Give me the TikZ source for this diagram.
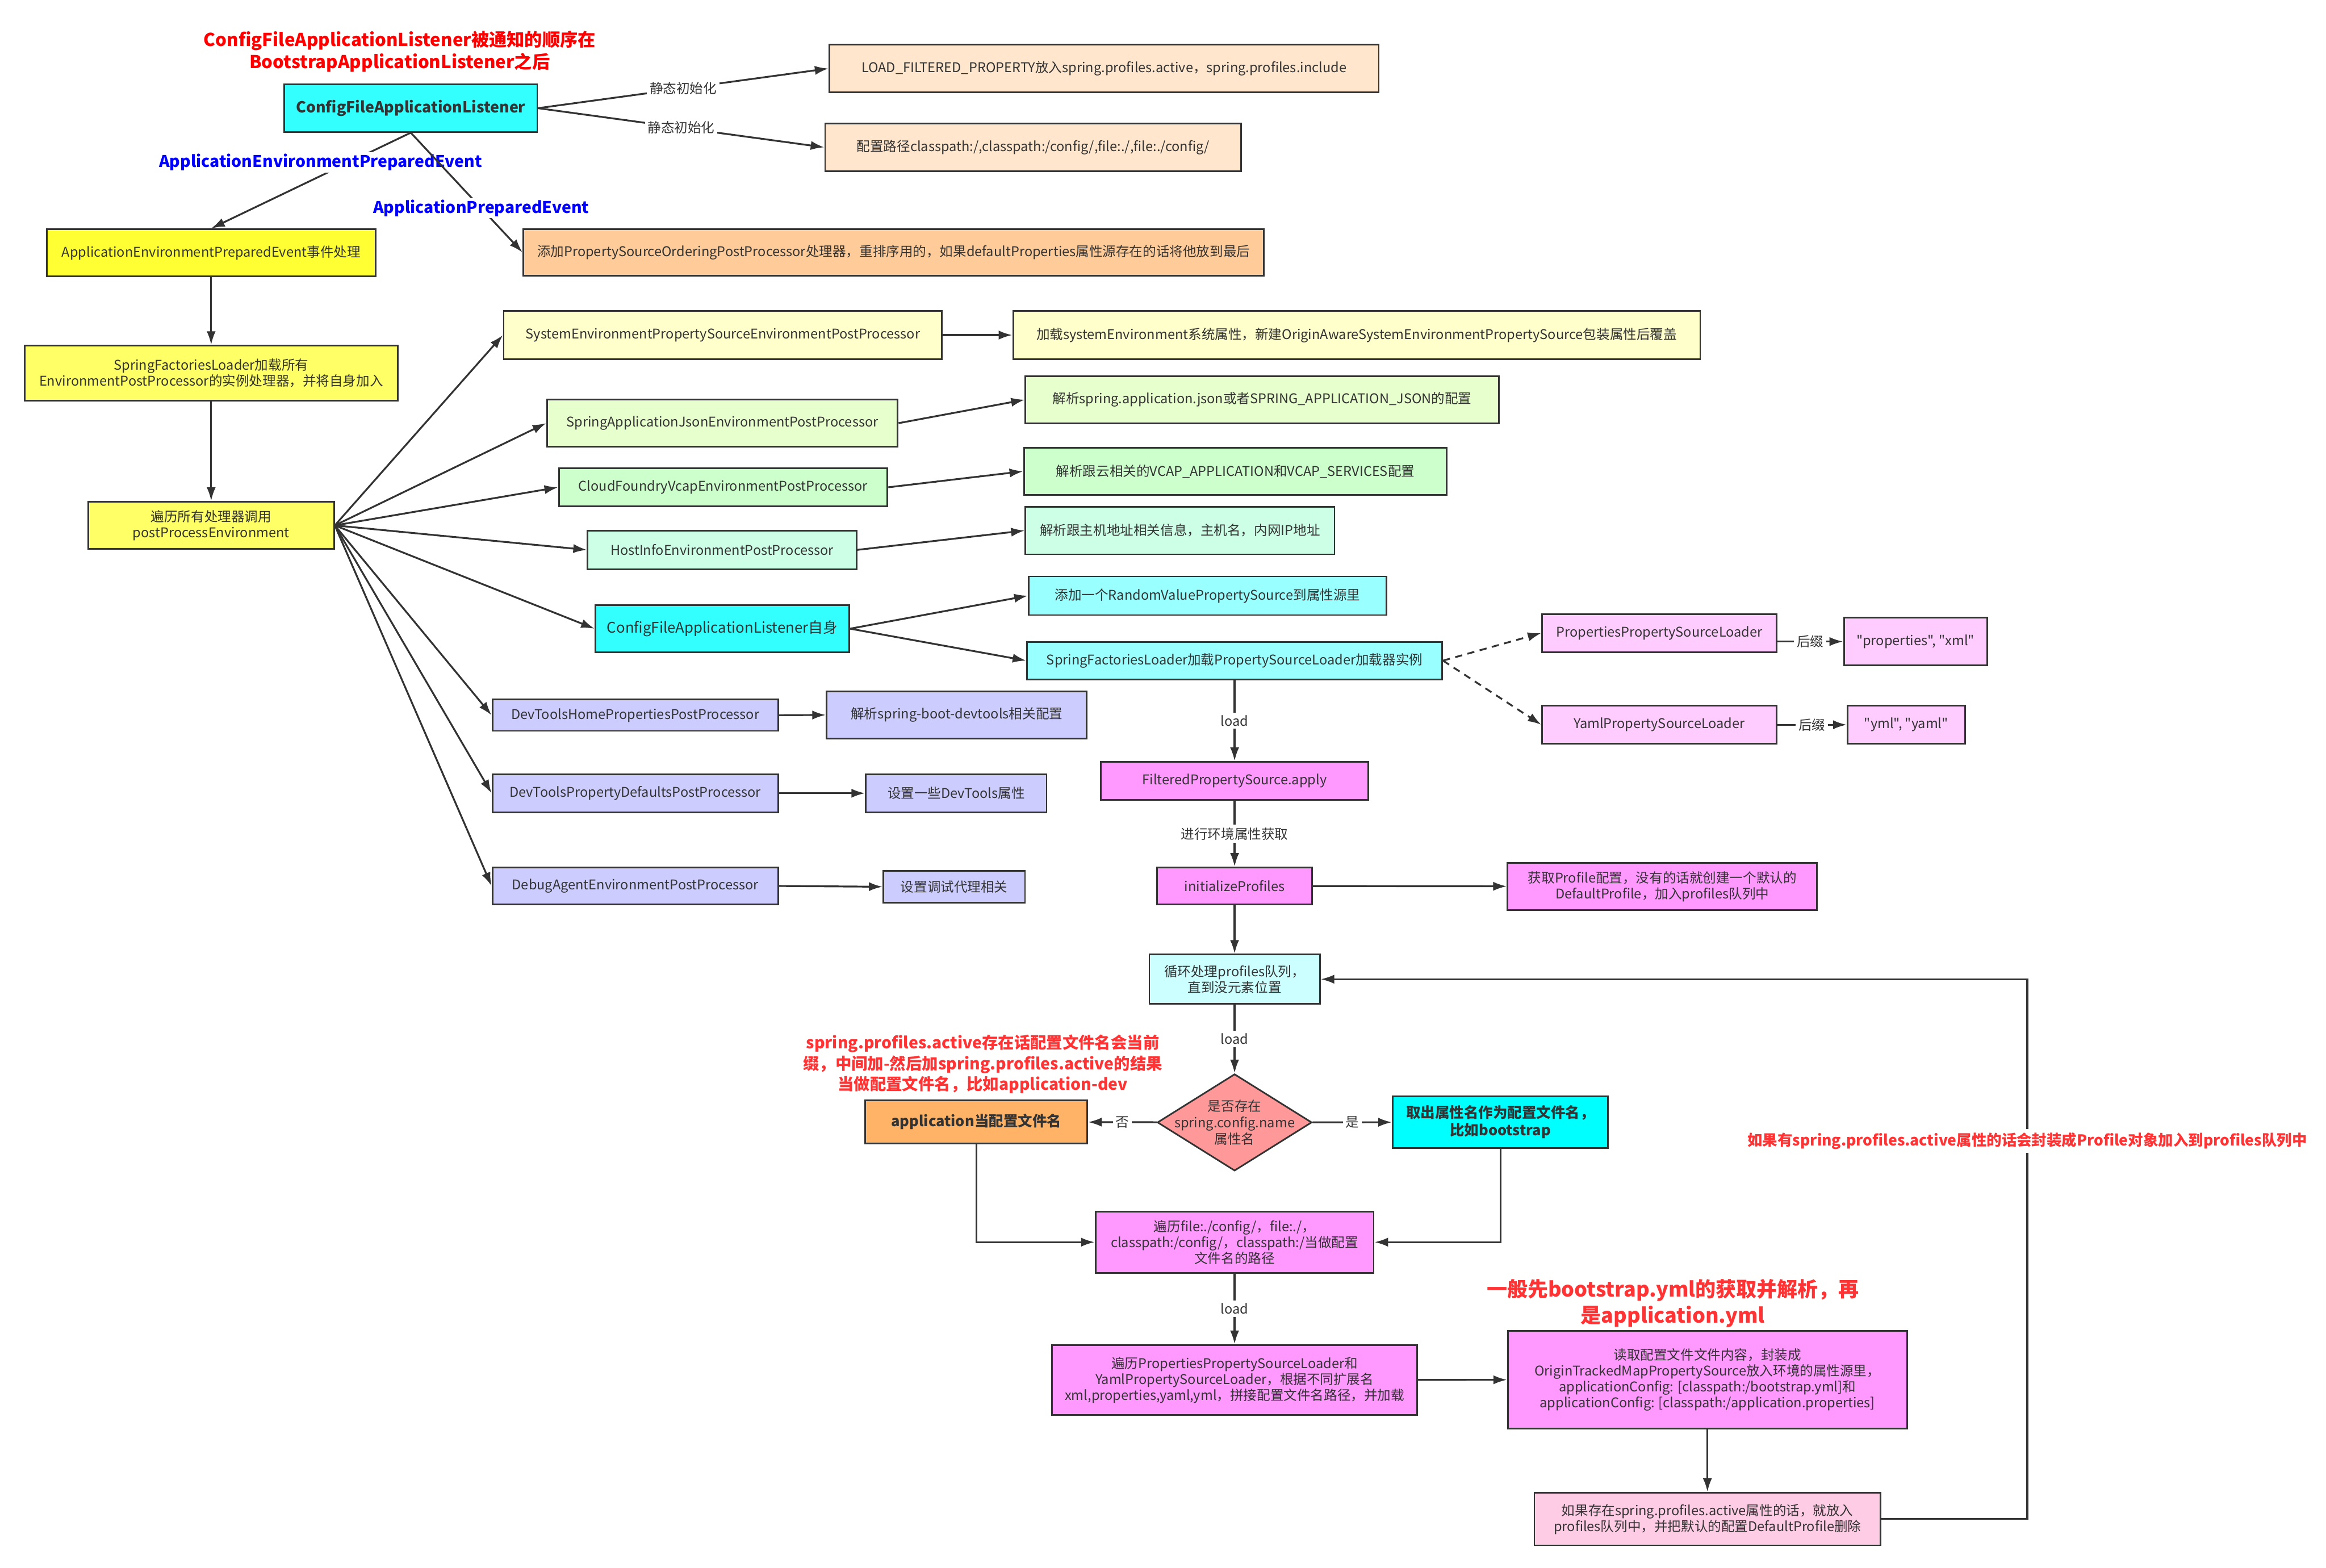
\documentclass[tikz,border=0pt]{standalone}
\usepackage{fontspec}
\setmainfont{Noto Sans CJK SC}
\newfontfamily\plainquote{Noto Sans CJK SC}
\usetikzlibrary{arrows.meta,shapes.geometric}
\definecolor{LineGray}{RGB}{51,51,51}
\definecolor{TextGray}{RGB}{51,51,51}
\definecolor{NoteRed}{RGB}{255,51,51}
\definecolor{TitleRed}{RGB}{255,0,0}
\definecolor{EventBlue}{RGB}{0,0,255}
\definecolor{BrightCyan}{HTML}{33FFFF}
\definecolor{PureCyan}{HTML}{00FFFF}
\definecolor{SoftCyan}{HTML}{99FFFF}
\definecolor{IceCyan}{HTML}{CCFFFF}
\definecolor{SoftPeach}{HTML}{FFE6CC}
\definecolor{Peach}{HTML}{FFCC99}
\definecolor{LemonYellow}{HTML}{FFFF33}
\definecolor{SoftYellow}{HTML}{FFFF66}
\definecolor{CreamYellow}{HTML}{FFFFCC}
\definecolor{LimeGreen}{HTML}{E6FFCC}
\definecolor{MintGreen}{HTML}{CCFFCC}
\definecolor{MintAqua}{HTML}{CCFFE6}
\definecolor{Lavender}{HTML}{CCCCFF}
\definecolor{LightPink}{HTML}{FFCCFF}
\definecolor{Orchid}{HTML}{FF99FF}
\definecolor{BlushPink}{HTML}{FFCCE6}
\definecolor{Salmon}{HTML}{FF9999}
\definecolor{Apricot}{HTML}{FFB366}
\tikzset{
  box/.style={draw=LineGray,line width=0.9pt,text=TextGray,align=center,
    inner sep=2pt,font=\fontsize{7.4}{8.8}\selectfont},
  boldbox/.style={box,font=\bfseries\fontsize{8}{9.8}\selectfont},
  decide/.style={diamond,draw=LineGray,line width=0.9pt,fill=Salmon,inner sep=0pt},
  arrow/.style={-{Latex[length=7.5pt,width=5pt]},line width=1pt,LineGray},
  dasharrow/.style={arrow,dash pattern=on 4pt off 3pt},
  elabel/.style={fill=white,inner sep=1.5pt,text=TextGray,font=\fontsize{7.4}{8.6}\selectfont},
  evlabel/.style={fill=white,inner sep=1pt,text=EventBlue,font=\bfseries\fontsize{8.9}{10.4}\selectfont},
  note/.style={align=center,inner sep=0pt,font=\bfseries}
}

\begin{document}
\begin{tikzpicture}
\useasboundingbox (0,0) rectangle (45.16,-30.44);

% listener and its events
\node[note,text=TitleRed,font=\bfseries\fontsize{9.8}{12.3}\selectfont] (orderNote) at (7.76,-1.00)
  {ConfigFileApplicationListener被通知的顺序在\\BootstrapApplicationListener之后};
\node[boldbox,fill=BrightCyan,font=\bfseries\fontsize{8.4}{10}\selectfont,minimum width=4.91cm,minimum height=0.92cm] (listener) at (7.975,-2.10) {ConfigFileApplicationListener};
\node[box,fill=SoftPeach,minimum width=10.67cm,minimum height=0.92cm] (loadFiltered) at (21.435,-1.33)
  {LOAD\_FILTERED\_PROPERTY放入spring.profiles.active，spring.profiles.include};
\node[box,fill=SoftPeach,minimum width=8.08cm,minimum height=0.92cm] (cfgPath) at (20.06,-2.86)
  {配置路径classpath:/,classpath:/config/,file:./,file:./config/};
\node[box,fill=Peach,minimum width=14.38cm,minimum height=0.90cm] (ordering) at (17.35,-4.90)
  {添加PropertySourceOrderingPostProcessor处理器，重排序用的，如果defaultProperties属性源存在的话将他放到最后};
\node[box,fill=LemonYellow,minimum width=6.38cm,minimum height=0.91cm] (aepe) at (4.10,-4.905)
  {ApplicationEnvironmentPreparedEvent事件处理};
\node[box,fill=SoftYellow,minimum width=7.24cm,minimum height=1.07cm] (sfl) at (4.10,-7.245)
  {SpringFactoriesLoader加载所有\\EnvironmentPostProcessor的实例处理器，并将自身加入};
\node[box,fill=SoftYellow,minimum width=4.77cm,minimum height=0.92cm] (traverse) at (4.10,-10.20)
  {遍历所有处理器调用\\postProcessEnvironment};

% post processors
\node[box,fill=CreamYellow,minimum width=8.51cm,minimum height=0.93cm] (sysEnv) at (14.035,-6.505)
  {SystemEnvironmentPropertySourceEnvironmentPostProcessor};
\node[box,fill=CreamYellow,minimum width=13.34cm,minimum height=0.93cm] (sysEnvDesc) at (26.34,-6.505)
  {加载systemEnvironment系统属性，新建OriginAwareSystemEnvironmentPropertySource包装属性后覆盖};
\node[box,fill=LimeGreen,minimum width=6.81cm,minimum height=0.91cm] (appJson) at (14.025,-8.215)
  {SpringApplicationJsonEnvironmentPostProcessor};
\node[box,fill=LimeGreen,minimum width=9.19cm,minimum height=0.92cm] (appJsonDesc) at (24.505,-7.76)
  {解析spring.application.json或者SPRING\_APPLICATION\_JSON的配置};
\node[box,fill=MintGreen,minimum width=6.38cm,minimum height=0.74cm] (cloud) at (14.04,-9.46)
  {CloudFoundryVcapEnvironmentPostProcessor};
\node[box,fill=MintGreen,minimum width=8.21cm,minimum height=0.92cm] (cloudDesc) at (23.985,-9.15)
  {解析跟云相关的VCAP\_APPLICATION和VCAP\_SERVICES配置};
\node[box,fill=MintAqua,minimum width=5.22cm,minimum height=0.75cm] (host) at (14.02,-10.675)
  {HostInfoEnvironmentPostProcessor};
\node[box,fill=MintAqua,minimum width=6.00cm,minimum height=0.92cm] (hostDesc) at (22.91,-10.30)
  {解析跟主机地址相关信息，主机名，内网IP地址};
\node[box,fill=BrightCyan,font=\fontsize{8.1}{9.6}\selectfont,minimum width=4.93cm,minimum height=0.91cm] (self) at (14.025,-12.205)
  {ConfigFileApplicationListener自身};
\node[box,fill=SoftCyan,minimum width=6.95cm,minimum height=0.75cm] (random) at (23.445,-11.565)
  {添加一个RandomValuePropertySource到属性源里};
\node[box,fill=SoftCyan,minimum width=8.06cm,minimum height=0.73cm] (psl) at (23.97,-12.825)
  {SpringFactoriesLoader加载PropertySourceLoader加载器实例};
\node[box,fill=Lavender,minimum width=5.55cm,minimum height=0.61cm] (devHome) at (12.335,-13.885)
  {DevToolsHomePropertiesPostProcessor};
\node[box,fill=Lavender,minimum width=5.05cm,minimum height=0.92cm] (devHomeDesc) at (18.575,-13.88)
  {解析spring-boot-devtools相关配置};
\node[box,fill=Lavender,minimum width=5.55cm,minimum height=0.74cm] (devDef) at (12.335,-15.40)
  {DevToolsPropertyDefaultsPostProcessor};
\node[box,fill=Lavender,minimum width=3.51cm,minimum height=0.74cm] (devDefDesc) at (18.565,-15.40)
  {设置一些DevTools属性};
\node[box,fill=Lavender,minimum width=5.55cm,minimum height=0.72cm] (debug) at (12.335,-17.20)
  {DebugAgentEnvironmentPostProcessor};
\node[box,fill=Lavender,minimum width=2.75cm,minimum height=0.61cm] (debugDesc) at (18.525,-17.215)
  {设置调试代理相关};

% loaders
\node[box,fill=LightPink,minimum width=4.55cm,minimum height=0.74cm] (propsLoader) at (32.215,-12.29)
  {PropertiesPropertySourceLoader};
\node[box,fill=LightPink,minimum width=2.78cm,minimum height=0.93cm] (propsExt) at (37.19,-12.455)
  {\plainquote "properties", "xml"};
\node[box,fill=LightPink,minimum width=4.55cm,minimum height=0.74cm] (yamlLoader) at (32.215,-14.07)
  {YamlPropertySourceLoader};
\node[box,fill=LightPink,minimum width=2.28cm,minimum height=0.74cm] (yamlExt) at (37.01,-14.07)
  {\plainquote "yml", "yaml"};

% profiles
\node[box,fill=Orchid,minimum width=5.20cm,minimum height=0.74cm] (filtered) at (23.97,-15.16)
  {FilteredPropertySource.apply};
\node[box,fill=Orchid,minimum width=3.01cm,minimum height=0.72cm] (initProf) at (23.97,-17.20)
  {initializeProfiles};
\node[box,fill=Orchid,minimum width=6.01cm,minimum height=0.92cm] (profileDesc) at (32.275,-17.21)
  {获取Profile配置，没有的话就创建一个默认的\\DefaultProfile，加入profiles队列中};
\node[box,fill=IceCyan,minimum width=3.31cm,minimum height=0.96cm] (loop) at (23.97,-19.01)
  {循环处理profiles队列，\\直到没元素位置};
\node[decide,minimum width=3.00cm,minimum height=1.88cm,
  label={[align=center,text=TextGray,font=\fontsize{7.4}{9}\selectfont]center:是否存在\\spring.config.name\\属性名}]
  (decision) at (23.97,-21.79) {};
\node[note,text=NoteRed,font=\bfseries\fontsize{8.9}{11.4}\selectfont] (prefixNote) at (19.08,-20.66)
  {spring.profiles.active存在话配置文件名会当前\\缀，中间加-然后加spring.profiles.active的结果\\当做配置文件名，比如application-dev};
\node[boldbox,fill=Apricot,minimum width=4.31cm,minimum height=0.84cm] (appName) at (18.955,-21.78)
  {application当配置文件名};
\node[boldbox,fill=PureCyan,minimum width=4.18cm,minimum height=1.01cm] (takeName) at (29.13,-21.785)
  {取出属性名作为配置文件名，\\比如bootstrap};
\node[box,fill=Orchid,minimum width=5.40cm,minimum height=1.19cm] (paths) at (23.97,-24.115)
  {遍历file:./config/，file:./，\\classpath:/config/，classpath:/当做配置\\文件名的路径};
\node[box,fill=Orchid,minimum width=7.09cm,minimum height=1.36cm] (loaders) at (23.97,-26.79)
  {遍历PropertiesPropertySourceLoader和\\YamlPropertySourceLoader，根据不同扩展名\\xml,properties,yaml,yml，拼接配置文件名路径，并加载};
\node[note,text=NoteRed,font=\bfseries\fontsize{11.3}{14.5}\selectfont] (bootNote) at (32.48,-25.30)
  {一般先bootstrap.yml的获取并解析，再\\是application.yml};
\node[box,fill=Orchid,minimum width=7.75cm,minimum height=1.89cm] (read) at (33.15,-26.785)
  {读取配置文件文件内容，封装成\\OriginTrackedMapPropertySource放入环境的属性源里，\\applicationConfig: [classpath:/bootstrap.yml]和\\applicationConfig: [classpath:/application.properties]};
\node[box,fill=BlushPink,minimum width=6.72cm,minimum height=1.02cm] (active) at (33.15,-29.49)
  {如果存在spring.profiles.active属性的话，就放入\\profiles队列中，并把默认的配置DefaultProfile删除};
\coordinate (loopback) at (39.36,-19.01);

% connectors
\draw[arrow] (listener.east) -- node[elabel] {静态初始化} (loadFiltered.west);
\draw[arrow] (listener.east) -- node[elabel] {静态初始化} (cfgPath.west);
\draw[arrow] (listener.south) -- node[evlabel,pos=0.31,xshift=-5.5mm] {ApplicationEnvironmentPreparedEvent} (aepe.north);
\draw[arrow] (listener.south) -- node[evlabel,pos=0.63] {ApplicationPreparedEvent} (ordering.west);
\draw[arrow] (aepe) -- (sfl);
\draw[arrow] (sfl) -- (traverse);
\foreach \proc in {sysEnv,appJson,cloud,host,self,devHome,devDef,debug}
  \draw[arrow] (traverse.east) -- (\proc.west);
\foreach \src/\dst in {sysEnv/sysEnvDesc,appJson/appJsonDesc,cloud/cloudDesc,host/hostDesc,
    self/random,self/psl,devHome/devHomeDesc,devDef/devDefDesc,debug/debugDesc}
  \draw[arrow] (\src.east) -- (\dst.west);
\draw[dasharrow] (psl.east) -- (propsLoader.west);
\draw[dasharrow] (psl.east) -- (yamlLoader.west);
\draw[arrow] (propsLoader.east |- propsExt.west) -- node[elabel] {后缀} (propsExt.west);
\draw[arrow] (yamlLoader.east) -- node[elabel] {后缀} (yamlExt.west);
\draw[arrow] (psl) -- node[elabel] {load} (filtered);
\draw[arrow] (filtered) -- node[elabel] {进行环境属性获取} (initProf);
\draw[arrow] (initProf) -- (profileDesc);
\draw[arrow] (initProf) -- (loop);
\draw[arrow] (loop) -- node[elabel] {load} (decision);
\draw[arrow] (decision) -- node[elabel] {否} (appName);
\draw[arrow] (decision) -- node[elabel] {是} (takeName);
\draw[arrow] (appName.south) |- (paths.west);
\draw[arrow] (takeName.south) |- (paths.east);
\draw[arrow] (paths) -- node[elabel] {load} (loaders);
\draw[arrow] (loaders) -- (read);
\draw[arrow] (read) -- (active);
\draw[arrow] (active.east) -| node[pos=0.85,fill=white,inner sep=2pt,text=NoteRed,font=\bfseries\fontsize{8.3}{10}\selectfont]
  {如果有spring.profiles.active属性的话会封装成Profile对象加入到profiles队列中} (loopback) -- (loop.east);

\end{tikzpicture}
\end{document}
